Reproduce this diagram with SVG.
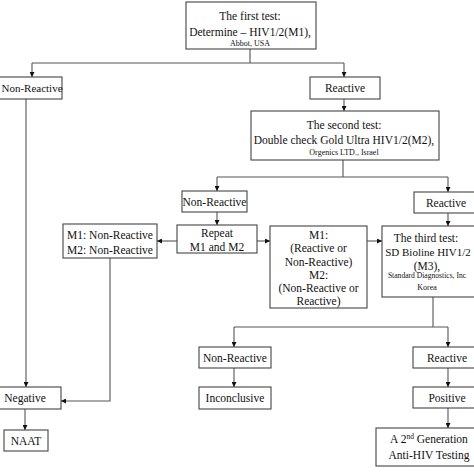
<svg xmlns="http://www.w3.org/2000/svg" width="474" height="474" viewBox="0 0 474 474">
<defs>
<marker id="ah" viewBox="0 0 10 10" refX="10" refY="5" markerWidth="5" markerHeight="5" orient="auto" markerUnits="userSpaceOnUse">
<path d="M0,0 L10,5 L0,10 z" fill="#111"/>
</marker>
<style>
.b{fill:#fff;stroke:#444;stroke-width:1.1}
.t{font-family:"Liberation Serif","Times New Roman",serif;font-size:11.5px;fill:#111;text-anchor:middle}
.s{font-family:"Liberation Serif","Times New Roman",serif;font-size:8px;fill:#111;text-anchor:middle}
.c{fill:none;stroke:#555;stroke-width:1.1}
</style>
</defs>
<rect width="474" height="474" fill="#fff"/>
<g id="connectors">
<path class="c" d="M250,49 V63 M32,63 H344"/>
<path class="c" d="M32,63 V77" marker-end="url(#ah)"/>
<path class="c" d="M344,63 V77" marker-end="url(#ah)"/>
<path class="c" d="M344,99 V111" marker-end="url(#ah)"/>
<path class="c" d="M26,99 V387" marker-end="url(#ah)"/>
<path class="c" d="M343,160 V177 M217,177 H448"/>
<path class="c" d="M217,177 V191" marker-end="url(#ah)"/>
<path class="c" d="M448,177 V192" marker-end="url(#ah)"/>
<path class="c" d="M217,212 V225" marker-end="url(#ah)"/>
<path class="c" d="M448,213 V226" marker-end="url(#ah)"/>
<path class="c" d="M177,241 H157" marker-end="url(#ah)"/>
<path class="c" d="M257,241 H270" marker-end="url(#ah)"/>
<path class="c" d="M367,241 H382" marker-end="url(#ah)"/>
<path class="c" d="M110,258 V401 H61" marker-end="url(#ah)"/>
<path class="c" d="M25,409 V430" marker-end="url(#ah)"/>
<path class="c" d="M433,297 V327 M234,327 H448"/>
<path class="c" d="M234,327 V347" marker-end="url(#ah)"/>
<path class="c" d="M448,327 V347" marker-end="url(#ah)"/>
<path class="c" d="M234,368 V387" marker-end="url(#ah)"/>
<path class="c" d="M448,368 V387" marker-end="url(#ah)"/>
<path class="c" d="M448,407 V428" marker-end="url(#ah)"/>
</g>
<g id="first-test">
<rect class="b" x="186" y="2" width="130" height="47"/>
<text class="t" x="250" y="20">The first  test:</text>
<text class="t" x="250" y="36">Determine  – HIV1/2(M1),</text>
<text class="s" x="250" y="46">Abbot, USA</text>
</g>
<g id="nonreactive-1">
<rect class="b" x="-12" y="77" width="74" height="22"/>
<text class="t" x="32" y="92" style="font-size:11px">Non-Reactive</text>
</g>
<g id="reactive-1">
<rect class="b" x="310" y="77" width="70" height="22"/>
<text class="t" x="345" y="92">Reactive</text>
</g>
<g id="second-test">
<rect class="b" x="251" y="111" width="188" height="49"/>
<text class="t" x="344" y="129">The second test:</text>
<text class="t" x="344" y="144">Double check Gold Ultra HIV1/2(M2),</text>
<text class="s" x="344" y="155">Orgenics LTD., Israel</text>
</g>
<g id="nonreactive-2">
<rect class="b" x="182" y="191" width="65" height="21"/>
<text class="t" x="214.5" y="205.5">Non-Reactive</text>
</g>
<g id="reactive-2">
<rect class="b" x="414" y="192" width="70" height="21"/>
<text class="t" x="446" y="206.5">Reactive</text>
</g>
<g id="repeat">
<rect class="b" x="177" y="225" width="80" height="28"/>
<text class="t" x="217" y="237">Repeat</text>
<text class="t" x="217" y="251">M1 and M2</text>
</g>
<g id="both-nonreactive">
<rect class="b" x="63" y="224" width="94" height="34"/>
<text class="t" x="110" y="239">M1: Non-Reactive</text>
<text class="t" x="110" y="254">M2: Non-Reactive</text>
</g>
<g id="discordant">
<rect class="b" x="270" y="226" width="97" height="82"/>
<text class="t" x="318.5" y="239">M1:</text>
<text class="t" x="318.5" y="252">(Reactive  or</text>
<text class="t" x="318.5" y="265.5">Non-Reactive)</text>
<text class="t" x="318.5" y="278.5">M2:</text>
<text class="t" x="318.5" y="292">(Non-Reactive  or</text>
<text class="t" x="318.5" y="305">Reactive)</text>
</g>
<g id="third-test">
<rect class="b" x="382" y="226" width="98" height="71"/>
<text class="t" x="426" y="242">The third  test:</text>
<text class="t" x="428" y="256" style="font-size:11px">SD Bioline  HIV1/2</text>
<text class="t" x="427" y="270">(M3),</text>
<text class="s" x="427" y="278" style="font-size:7.6px">Standard Diagnostics, Inc</text>
<text class="s" x="427" y="290">Korea</text>
</g>
<g id="nonreactive-3">
<rect class="b" x="199" y="347" width="72" height="21"/>
<text class="t" x="235" y="361.5">Non-Reactive</text>
</g>
<g id="inconclusive">
<rect class="b" x="199" y="387" width="72" height="22"/>
<text class="t" x="235" y="402">Inconclusive</text>
</g>
<g id="reactive-3">
<rect class="b" x="413" y="347" width="70" height="21"/>
<text class="t" x="447" y="361.5">Reactive</text>
</g>
<g id="positive">
<rect class="b" x="413" y="387" width="70" height="21"/>
<text class="t" x="447" y="401.5">Positive</text>
</g>
<g id="negative">
<rect class="b" x="-10" y="387" width="71" height="22"/>
<text class="t" x="25" y="402">Negative</text>
</g>
<g id="naat">
<rect class="b" x="4" y="430" width="44" height="21"/>
<text class="t" x="26" y="444.5">NAAT</text>
</g>
<g id="second-generation">
<rect class="b" x="376" y="428" width="106" height="38"/>
<text class="t" x="429" y="443">A 2<tspan font-size="7.5px" dy="-4">nd</tspan><tspan dy="4"> Generation</tspan></text>
<text class="t" x="429" y="459">Anti-HIV  Testing</text>
</g>
</svg>
